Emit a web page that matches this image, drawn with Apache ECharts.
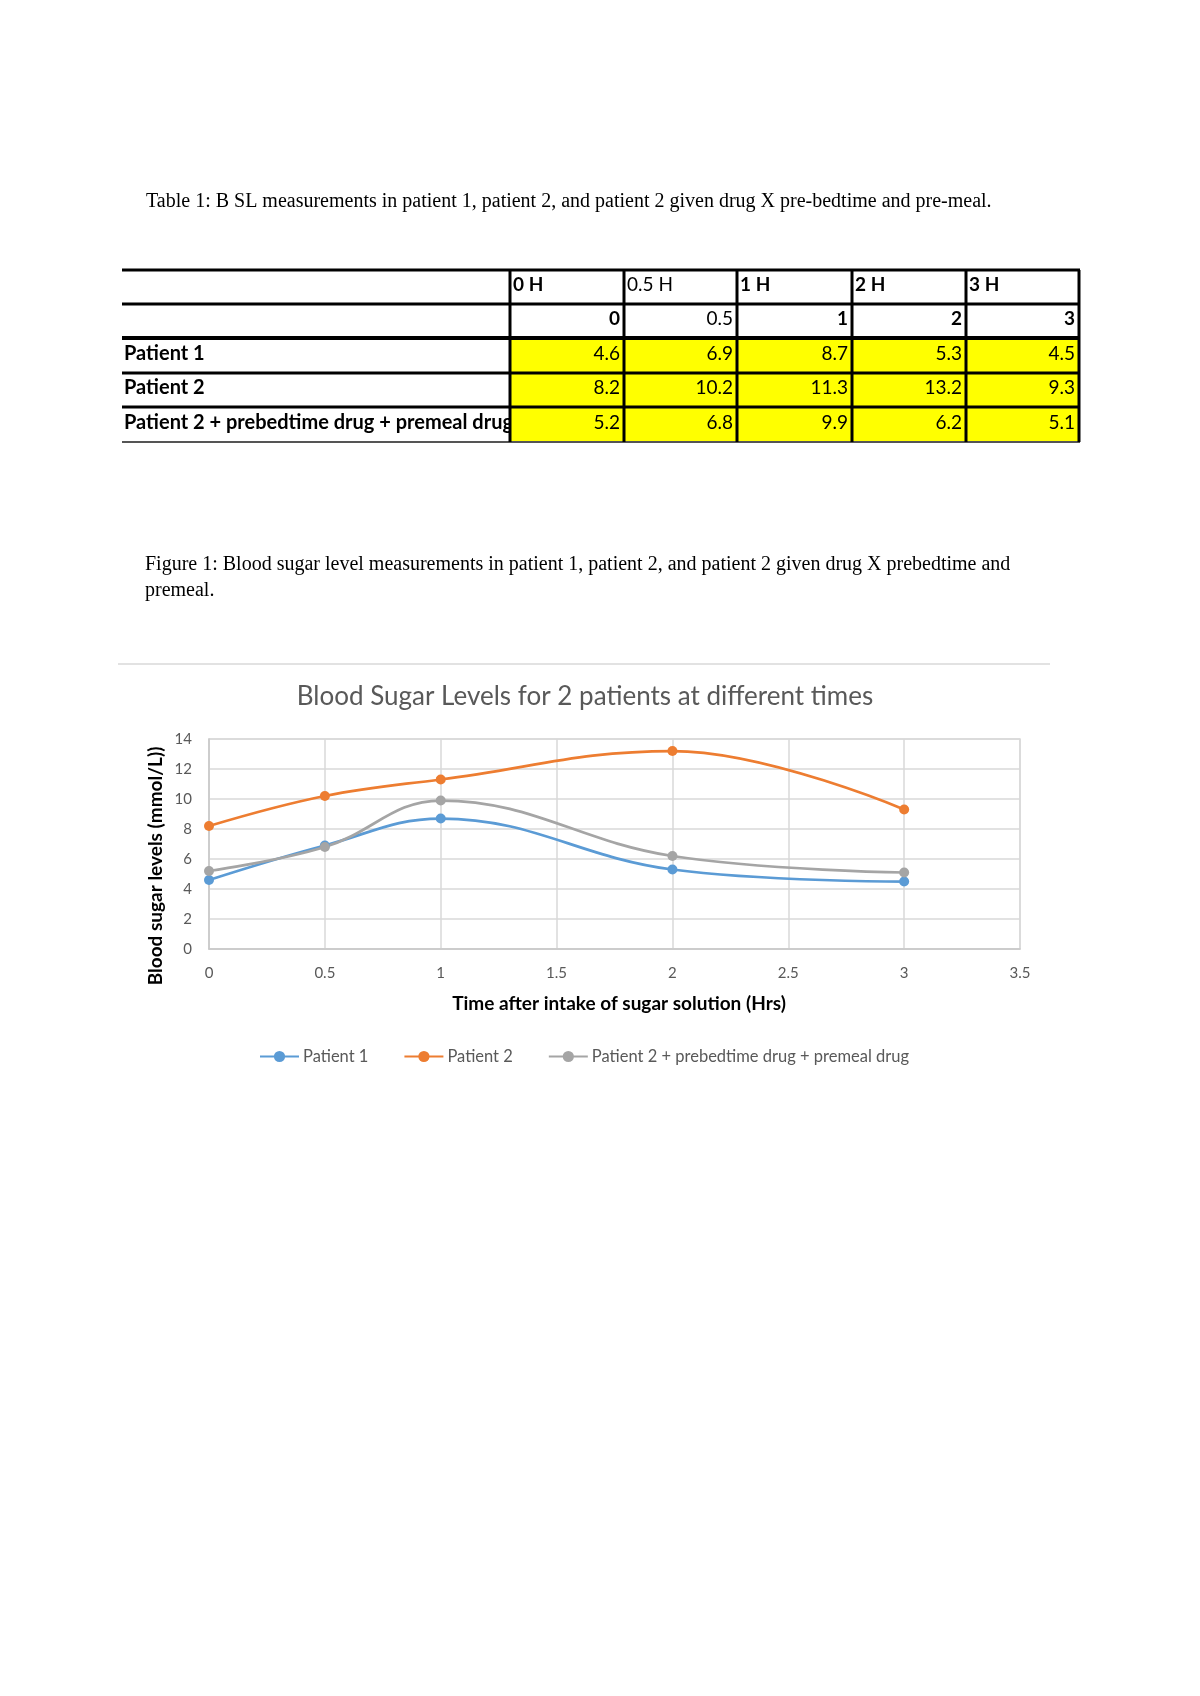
<!DOCTYPE html>
<html>
<head>
<meta charset="utf-8">
<script src="https://cdn.jsdelivr.net/npm/echarts@6/dist/echarts.min.js"></script>
<style>
html,body{margin:0;padding:0;background:#fff;}
#c{width:1200px;height:1696px;}
</style>
</head>
<body>
<div id="c"></div>
<script>
// ---- data ----
var hours = [0, 0.5, 1, 2, 3];
var hourLabels = ['0 H', '0.5 H', '1 H', '2 H', '3 H'];
var seriesNames = ['Patient 1', 'Patient 2', 'Patient 2 + prebedtime drug + premeal drug'];
var patient1 = [4.6, 6.9, 8.7, 5.3, 4.5];
var patient2 = [8.2, 10.2, 11.3, 13.2, 9.3];
var patient2Drug = [5.2, 6.8, 9.9, 6.2, 5.1];
var xTicks = [0, 0.5, 1, 1.5, 2, 2.5, 3, 3.5];
var yTicks = [0, 2, 4, 6, 8, 10, 12, 14];
var chartTitle = 'Blood Sugar Levels for 2 patients at different times';
var xAxisTitle = 'Time after intake of sugar solution (Hrs)';
var yAxisTitle = 'Blood sugar levels (mmol/L))';
var tableCaption = 'Table 1: B SL measurements in patient 1, patient 2, and patient 2 given drug X pre-bedtime and pre-meal.';
var figureCaption = 'Figure 1: Blood sugar level measurements in patient 1, patient 2, and patient 2 given drug X prebedtime and\npremeal.';

var allSeries = [patient1, patient2, patient2Drug];
var colors = ['#5b9bd5', '#ed7d31', '#a5a5a5'];

// ---- table layout ----
var rowY = [270, 304, 338, 373, 407, 442];
var colX = [122, 510, 624, 737, 852, 966, 1079];
var g = [];
var zText = 10, zFill = 20, zNum = 30, zLine = 40;

g.push({type:'text', left:146, top:192, z:zText,
  style:{text:tableCaption, font:'20px "Liberation Serif"', fill:'#000'}});
g.push({type:'text', left:145, top:552, z:zText,
  style:{text:figureCaption, font:'20px "Liberation Serif"', fill:'#000', lineHeight:26}});

// row labels
seriesNames.forEach(function(lbl, i){
  var cy = (rowY[i+2] + rowY[i+3]) / 2 - 2;
  g.push({type:'text', x:124, y:cy, z:zText,
    style:{text:lbl, font:'bold 20px Lato', fill:'#000', verticalAlign:'middle', align:'left'}});
});
// yellow fills
for (var r = 0; r < 3; r++) {
  for (var c = 0; c < hours.length; c++) {
    g.push({type:'rect', z:zFill,
      shape:{x:colX[c+1], y:rowY[r+2], width:colX[c+2]-colX[c+1], height:rowY[r+3]-rowY[r+2]},
      style:{fill:'#ffff00'}});
  }
}
function isFrac(h){ return String(h).indexOf('.') >= 0; }
// header rows
hourLabels.forEach(function(h, c){
  g.push({type:'text', x:colX[c+1]+3, y:(rowY[0]+rowY[1])/2-2, z:zNum,
    style:{text:h, font:(isFrac(hours[c])?'normal ':'bold ')+'19px Lato', fill:'#000', verticalAlign:'middle', align:'left'}});
  g.push({type:'text', x:colX[c+2]-4, y:(rowY[1]+rowY[2])/2-2, z:zNum,
    style:{text:String(hours[c]), font:(isFrac(hours[c])?'normal ':'bold ')+'19px Lato', fill:'#000', verticalAlign:'middle', align:'right'}});
});
// values
allSeries.forEach(function(arr, r){
  arr.forEach(function(v, c){
    g.push({type:'text', x:colX[c+2]-4, y:(rowY[r+2]+rowY[r+3])/2-2, z:zNum,
      style:{text:String(v), font:'19px Lato', fill:'#000', verticalAlign:'middle', align:'right'}});
  });
});
// lines
var hW = [3, 3, 4, 3, 3, 2];
rowY.forEach(function(y, i){
  g.push({type:'line', z:zLine, shape:{x1:colX[0], y1:y, x2:colX[6]+1, y2:y},
    style:{stroke: i===5 ? '#555' : '#000', lineWidth:hW[i]}});
});
for (var k = 1; k < colX.length; k++) {
  g.push({type:'line', z:zLine, shape:{x1:colX[k], y1:rowY[0], x2:colX[k], y2:rowY[5]},
    style:{stroke:'#000', lineWidth:3}});
}

// chart decorations
g.push({type:'line', z:1, shape:{x1:118, y1:664, x2:1050, y2:664}, style:{stroke:'#d9d9d9', lineWidth:1.5}});
g.push({type:'text', x:585, y:697, z:zText,
  style:{text:chartTitle, font:'26px Lato', fill:'#595959', align:'center', verticalAlign:'middle'}});
g.push({type:'text', x:619, y:1004, z:zText,
  style:{text:xAxisTitle, font:'bold 19px Lato', fill:'#000', align:'center', verticalAlign:'middle'}});
g.push({type:'text', x:156, y:866, rotation:Math.PI/2, z:zText,
  style:{text:yAxisTitle, font:'bold 19px Lato', fill:'#000', align:'center', verticalAlign:'middle'}});

var chart = echarts.init(document.getElementById('c'), null, {renderer:'canvas'});
var option = {
  backgroundColor:'#fff',
  animation:false,
  color: colors,
  graphic: g,
  grid: {left:209, right:180, top:739, height:210, show:true, borderColor:'#d9d9d9', borderWidth:1.5},
  legend: {
    left:259, top:1048, padding:0, itemWidth:39, itemHeight:14, itemGap:35,
    textStyle:{fontFamily:'Lato', fontSize:16.5, color:'#595959', padding:[0,0,0,-1]},
    data: seriesNames
  },
  xAxis: {
    type:'value', min:xTicks[0], max:xTicks[xTicks.length-1], interval:xTicks[1]-xTicks[0],
    axisLine:{show:true, lineStyle:{color:'#c8c8c8', width:1.5}},
    axisTick:{show:false},
    splitLine:{show:true, lineStyle:{color:'#d9d9d9', width:1.5}},
    axisLabel:{fontFamily:'Lato', fontSize:15, color:'#595959', margin:17}
  },
  yAxis: {
    type:'value', min:yTicks[0], max:yTicks[yTicks.length-1], interval:yTicks[1]-yTicks[0],
    axisLine:{show:true, lineStyle:{color:'#c8c8c8', width:1.5}},
    axisTick:{show:false},
    splitLine:{show:true, lineStyle:{color:'#d9d9d9', width:1.5}},
    axisLabel:{fontFamily:'Lato', fontSize:15, color:'#595959', margin:17}
  },
  series: allSeries.map(function(arr, i){
    return {
      name: seriesNames[i], type:'line', smooth:0.4,
      symbol:'circle', symbolSize:10,
      lineStyle:{width:2.75, color:colors[i]},
      itemStyle:{color:colors[i]},
      data: arr.map(function(v, j){ return [hours[j], v]; })
    };
  })
};
chart.setOption(option);
</script>
</body>
</html>
